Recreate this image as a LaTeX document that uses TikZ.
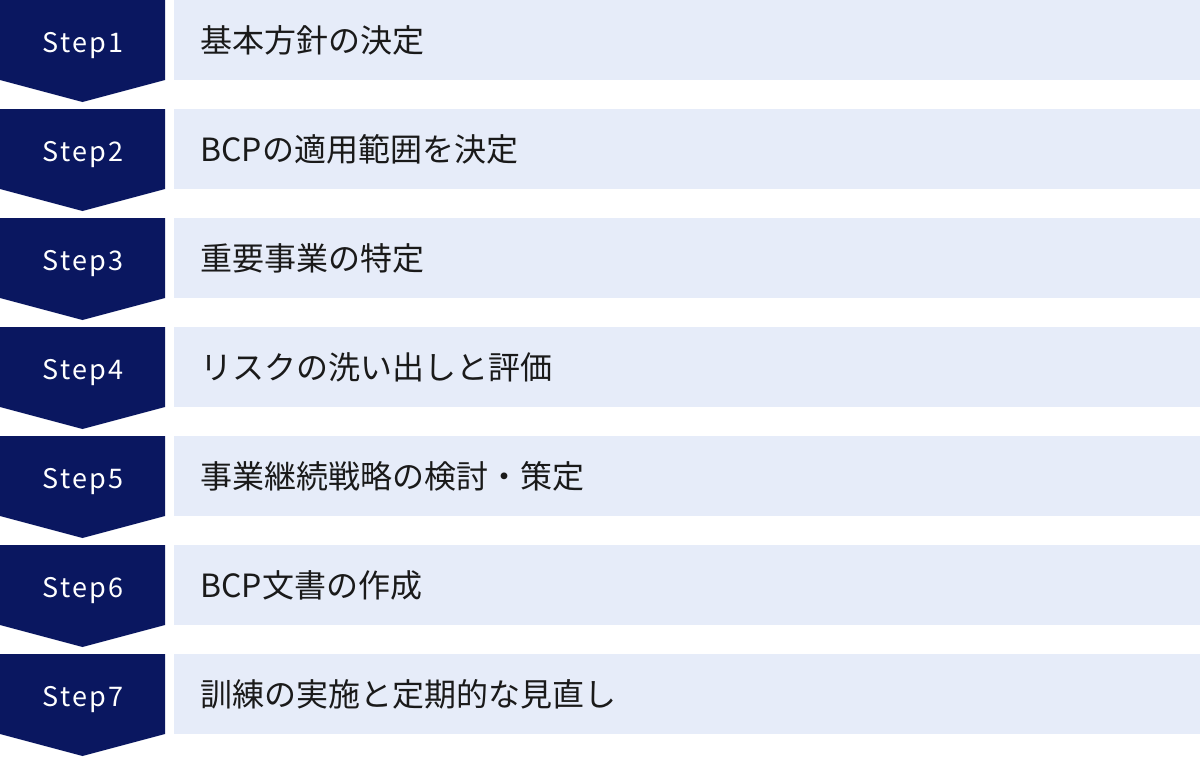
\documentclass[tikz,border=0pt]{standalone}
\usepackage{fontspec}
\setmainfont{Noto Sans CJK JP}
\newfontfamily\stepfont[LetterSpace=9]{Noto Sans CJK JP}
\usepackage{tikz}
\usetikzlibrary{positioning}
\definecolor{navy}{HTML}{0A1760}
\definecolor{paleblue}{HTML}{E6ECF9}
\definecolor{ink}{HTML}{1A1A1A}
\tikzset{
  stepbadge/.style={fill=navy},
  steplabel/.style={text=white,font=\stepfont\fontsize{27}{30}\selectfont,anchor=base,inner sep=0pt},
  taskbox/.style={fill=paleblue,draw=none,minimum width=1026pt,minimum height=80pt,inner sep=0pt,anchor=north west},
  tasklabel/.style={text=ink,font=\fontsize{32}{38}\selectfont,anchor=west}
}
\begin{document}
\begin{tikzpicture}[x=1pt,y=1pt]
    \useasboundingbox (0,0) rectangle (1200,-756);
    \foreach \n/\task in {1/基本方針の決定,2/BCPの適用範囲を決定,3/重要事業の特定,4/リスクの洗い出しと評価,5/事業継続戦略の検討・策定,6/BCP文書の作成,7/訓練の実施と定期的な見直し}{
      \pgfmathsetmacro\top{-(\n-1)*109}
      \fill[stepbadge] (0,\top) -- (165,\top) -- (165,\top-80) -- (82.5,\top-102) -- (0,\top-80) -- cycle;
      \node[steplabel] (s\n) at (83,\top-52) {Step\n};
      \node[taskbox] (b\n) at (174,\top) {};
      \node[tasklabel] (t\n) at ([xshift=23pt]b\n.west) {\task};
    }
  \end{tikzpicture}
\end{document}
